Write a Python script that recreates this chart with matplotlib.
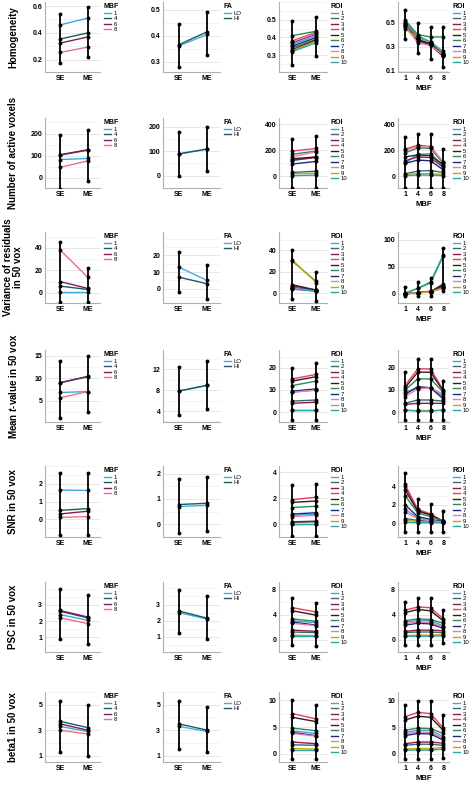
import matplotlib
matplotlib.use('Agg')
import matplotlib.pyplot as plt
from matplotlib.lines import Line2D
from matplotlib.ticker import MultipleLocator

plt.rcParams['font.family'] = ['Liberation Sans', 'DejaVu Sans']
plt.rcParams['mathtext.fontset'] = 'custom'
plt.rcParams['mathtext.it'] = 'Liberation Sans:italic:bold'
plt.rcParams['mathtext.rm'] = 'Liberation Sans:bold'

# ---------------- data ----------------
COND = ['SE', 'ME']
MBF_LEVELS = ['1', '4', '6', '8']
FA_LEVELS = ['LO', 'HI']
ROI_LEVELS = ['1', '2', '3', '4', '5', '6', '7', '8', '9', '10']

ROW_LABELS = ['Homogeneity', 'Number of active voxels', 'Variance of residuals\nin 50 vox',
              'Mean $\\it{t}$-value in 50 vox', 'SNR in 50 vox', 'PSC in 50 vox', 'beta1 in 50 vox']

# Homogeneity
hom_mbf = [[0.46, 0.51], [0.355, 0.40], [0.325, 0.37], [0.255, 0.295]]
hom_mbf_rng = [[0.18, 0.54], [0.22, 0.59]]
hom_fa = [[0.36, 0.405], [0.365, 0.415]]
hom_fa_rng = [[0.28, 0.445], [0.325, 0.49]]
hom_roi = [[0.36, 0.41], [0.34, 0.39], [0.37, 0.42], [0.38, 0.43], [0.33, 0.385],
           [0.41, 0.435], [0.35, 0.40], [0.375, 0.425], [0.325, 0.38], [0.32, 0.37]]
hom_roi_rng = [[0.245, 0.49], [0.295, 0.515]]
hom_roi_mbf = [[0.50, 0.38, 0.33, 0.24], [0.48, 0.36, 0.32, 0.23], [0.49, 0.35, 0.31, 0.22],
               [0.51, 0.37, 0.32, 0.24], [0.47, 0.36, 0.32, 0.22], [0.52, 0.40, 0.38, 0.38],
               [0.46, 0.35, 0.33, 0.23], [0.48, 0.33, 0.31, 0.23], [0.45, 0.37, 0.34, 0.25],
               [0.50, 0.39, 0.34, 0.26]]
hom_roi_mbf_rng = [[0.36, 0.60], [0.25, 0.50], [0.20, 0.46], [0.13, 0.46]]

# Number of active voxels
nav_mbf = [[83, 88], [103, 125], [105, 127], [48, 77]]
nav_mbf_rng = [[-50, 195], [-15, 215]]
nav_fa = [[88, 108], [89, 109]]
nav_fa_rng = [[0, 180], [18, 198]]
nav_roi = [[120, 150], [30, 40], [125, 145], [195, 215], [135, 150],
           [170, 195], [95, 115], [150, 190], [20, 25], [5, 10]]
nav_roi_rng = [[-90, 290], [-90, 310]]
nav_roi_mbf = [[100, 170, 175, 80], [20, 40, 45, 30], [120, 150, 145, 70], [210, 240, 230, 110],
               [150, 165, 160, 90], [180, 220, 215, 100], [100, 125, 120, 50], [200, 230, 225, 110],
               [15, 20, 20, 15], [5, 10, 10, 5]]
nav_roi_mbf_rng = [[-90, 300], [-90, 330], [-90, 325], [-90, 210]]

# Variance of residuals
var_mbf = [[1, 1], [6, 3], [10, 4], [38, 14]]
var_mbf_rng = [[-8, 45], [-8, 22]]
var_fa = [[13, 5], [7, 3]]
var_fa_rng = [[-2, 22], [-6, 14]]
var_roi = [[4, 2], [5, 3], [7, 3], [6, 2.5], [8, 3],
           [30, 11], [5, 3], [5, 2], [31, 10], [4, 2]]
var_roi_rng = [[-5, 40], [-7, 20]]
var_roi_mbf = [[0, 2, 4, 12], [0, 2, 4, 13], [0, 2, 5, 12], [0, 2, 4, 14], [0, 2, 4, 18],
               [1, 10, 20, 70], [0, 2, 4, 15], [0, 2, 3, 11], [0, 2, 4, 10], [1, 10, 22, 72]]
var_roi_mbf_rng = [[-5, 12], [-5, 22], [-5, 30], [5, 85]]

# Mean t-value
tv_mbf = [[6.8, 7.0], [9.0, 10.4], [9.0, 10.3], [5.6, 7.0]]
tv_mbf_rng = [[1.0, 13.8], [2.5, 15.0]]
tv_fa = [[7.8, 8.9], [7.85, 8.95]]
tv_fa_rng = [[3.3, 12.5], [4.3, 13.5]]
tv_roi = [[9.0, 10.0], [5.0, 5.5], [4.0, 4.5], [15.0, 17.0], [14.0, 16.0],
          [12.0, 14.0], [9.5, 10.5], [9.0, 10.0], [1.0, 1.0], [1.0, 1.0]]
tv_roi_rng = [[-3.5, 20], [-3.5, 22]]
tv_roi_mbf = [[9, 11, 11, 7], [4, 5.5, 5.5, 5], [3.5, 4, 4, 4], [12, 19.5, 19.5, 10],
              [11, 18, 18, 9.5], [10, 15, 15, 9], [8, 11.5, 11, 6], [7, 10.5, 11, 8],
              [1, 1, 1, 1], [1, 0.5, 0.5, 1]]
tv_roi_mbf_rng = [[-3.5, 18], [-3.5, 24], [-3.5, 24], [-3.5, 14]]

# SNR
snr_mbf = [[1.65, 1.62], [0.5, 0.6], [0.3, 0.45], [0.1, 0.15]]
snr_mbf_rng = [[-0.9, 2.6], [-0.9, 2.6]]
snr_fa = [[0.7, 0.75], [0.78, 0.83]]
snr_fa_rng = [[-0.35, 1.8], [-0.25, 1.85]]
snr_roi = [[0.7, 0.8], [0.15, 0.2], [0.2, 0.25], [1.9, 2.1], [1.7, 1.8],
           [1.3, 1.4], [0.8, 0.9], [0.6, 0.7], [0.05, 0.05], [0.0, 0.0]]
snr_roi_rng = [[-0.9, 3.0], [-0.9, 3.1]]
snr_roi_mbf = [[1.5, 0.6, 0.4, 0.1], [0.5, 0.3, 0.2, 0.1], [4.0, 1.4, 0.9, 0.2], [4.2, 1.5, 1.0, 0.2],
               [3.6, 1.3, 0.9, 0.2], [3.0, 1.1, 0.7, 0.2], [2.0, 0.7, 0.4, 0.15], [1.2, 0.5, 0.3, 0.1],
               [0.3, 0.2, 0.1, 0.1], [0.1, 0.05, 0.05, 0.05]]
snr_roi_mbf_rng = [[-1.0, 5.4], [-1.0, 2.6], [-1.0, 2.1], [-1.0, 1.3]]

# PSC
psc_mbf = [[2.4, 2.05], [2.6, 2.2], [2.65, 2.25], [2.2, 1.85]]
psc_mbf_rng = [[0.9, 4.0], [0.6, 3.6]]
psc_fa = [[2.5, 2.1], [2.6, 2.15]]
psc_fa_rng = [[1.2, 3.9], [0.85, 3.5]]
psc_roi = [[3.0, 2.7], [1.2, 1.1], [1.5, 1.3], [5.1, 4.4], [4.6, 3.9],
           [3.3, 2.9], [2.8, 2.3], [2.6, 2.2], [0.7, 0.6], [0.5, 0.5]]
psc_roi_rng = [[-0.8, 6.6], [-1.0, 5.8]]
psc_roi_mbf = [[2.8, 3.0, 3.0, 2.2], [1.1, 1.2, 1.2, 1.1], [1.3, 1.5, 1.5, 1.4], [4.7, 5.2, 5.1, 3.3],
               [4.3, 4.8, 4.6, 3.0], [3.0, 3.3, 3.2, 2.6], [2.3, 2.6, 2.5, 1.8], [2.5, 2.8, 2.7, 2.0],
               [0.6, 0.7, 0.7, 0.8], [0.5, 0.5, 0.5, 0.6]]
psc_roi_mbf_rng = [[-0.8, 6.0], [-0.8, 6.6], [-0.8, 6.6], [-0.5, 4.8]]

# beta1
b1_mbf = [[3.3, 2.9], [3.7, 3.2], [3.5, 3.0], [3.0, 2.7]]
b1_mbf_rng = [[1.3, 5.3], [1.0, 5.0]]
b1_fa = [[3.3, 2.9], [3.5, 3.0]]
b1_fa_rng = [[1.5, 5.3], [1.3, 4.8]]
b1_roi = [[4.3, 3.8], [1.7, 1.6], [2.2, 1.9], [7.5, 6.5], [6.8, 6.0],
          [4.8, 4.3], [4.0, 3.4], [3.8, 3.3], [1.0, 0.9], [0.7, 0.7]]
b1_roi_rng = [[-1.0, 10.0], [-1.0, 9.0]]
b1_roi_mbf = [[4.0, 4.4, 4.4, 3.2], [1.6, 1.8, 1.8, 1.6], [1.9, 2.2, 2.2, 2.0], [6.9, 7.7, 7.5, 4.8],
              [6.3, 7.0, 6.8, 4.4], [4.4, 4.8, 4.7, 3.8], [3.4, 3.8, 3.7, 2.6], [3.7, 4.1, 4.0, 2.9],
              [0.9, 1.0, 1.0, 1.2], [0.7, 0.7, 0.7, 0.9]]
b1_roi_mbf_rng = [[-1.0, 9.0], [-1.0, 9.9], [-1.0, 9.8], [-0.8, 7.2]]

# ---------------- styling ----------------
MBF_COLORS = ['#3ea6dc', '#1d5c5e', '#7e1f55', '#ee6f86']
FA_COLORS = ['#43aede', '#1b5b60']
ROI_COLORS = ['#3ea6dc', '#3c6a72', '#8a1c4c', '#ea3f5d', '#3b1a1f',
              '#2f8a55', '#1c2a7c', '#ee7bb0', '#c9a300', '#27a7a6']

ROWS = [
    (hom_mbf, hom_mbf_rng, hom_fa, hom_fa_rng, hom_roi, hom_roi_rng, hom_roi_mbf, hom_roi_mbf_rng),
    (nav_mbf, nav_mbf_rng, nav_fa, nav_fa_rng, nav_roi, nav_roi_rng, nav_roi_mbf, nav_roi_mbf_rng),
    (var_mbf, var_mbf_rng, var_fa, var_fa_rng, var_roi, var_roi_rng, var_roi_mbf, var_roi_mbf_rng),
    (tv_mbf, tv_mbf_rng, tv_fa, tv_fa_rng, tv_roi, tv_roi_rng, tv_roi_mbf, tv_roi_mbf_rng),
    (snr_mbf, snr_mbf_rng, snr_fa, snr_fa_rng, snr_roi, snr_roi_rng, snr_roi_mbf, snr_roi_mbf_rng),
    (psc_mbf, psc_mbf_rng, psc_fa, psc_fa_rng, psc_roi, psc_roi_rng, psc_roi_mbf, psc_roi_mbf_rng),
    (b1_mbf, b1_mbf_rng, b1_fa, b1_fa_rng, b1_roi, b1_roi_rng, b1_roi_mbf, b1_roi_mbf_rng),
]

YLIMS = [
    [(0.11, 0.63), (0.26, 0.53), (0.205, 0.60), (0.09, 0.67)],
    [(-45, 270), (-50, 235), (-90, 450), (-90, 450)],
    [(-9, 54), (-8.5, 34), (-9, 57), (-17, 114)],
    [(0.2, 16.3), (1.9, 15.7), (-4.4, 28), (-4.4, 28)],
    [(-1.0, 3.0), (-0.5, 2.3), (-0.97, 4.5), (-1.5, 6.2)],
    [(0.1, 4.4), (0.05, 4.4), (-2, 9.2), (-2, 9.2)],
    [(0.5, 6.0), (0.5, 6.0), (-1.5, 11.5), (-1.5, 11.5)],
]
YTICKS = [
    [[0.2, 0.4, 0.6], [0.3, 0.4, 0.5], [0.3, 0.4, 0.5], [0.1, 0.3, 0.5]],
    [[0, 100, 200], [0, 100, 200], [0, 200, 400], [0, 200, 400]],
    [[0, 20, 40], [0, 10, 20], [0, 20, 40], [0, 50, 100]],
    [[5, 10, 15], [4, 8, 12], [0, 10, 20], [0, 10, 20]],
    [[0, 1, 2], [0, 1, 2], [0, 2, 4], [0, 2, 4]],
    [[1, 2, 3], [1, 2, 3], [0, 4, 8], [0, 4, 8]],
    [[1, 3, 5], [1, 3, 5], [0, 5, 10], [0, 5, 10]],
]
TICKFMT = [['{:.1f}'] * 4] + [['{:g}'] * 4] * 6

W, H = 474, 788
COLS_PX = [(45, 100), (163, 220), (279, 327), (398, 449)]
ROWS_PX = [(2, 72), (118, 188), (232, 303), (350, 422), (466, 537), (582, 652), (692, 762)]

fig = plt.figure(figsize=(W / 100, H / 100), dpi=100)
fig.patch.set_facecolor('white')

SPINE = '#b0b0b0'
GRID = '#e6e6e6'


def make_ax(r, c):
    x0, x1 = COLS_PX[c]
    y0, y1 = ROWS_PX[r]
    ax = fig.add_axes([x0 / W, 1 - y1 / H, (x1 - x0) / W, (y1 - y0) / H])
    for s in ['top', 'right']:
        ax.spines[s].set_visible(False)
    for s in ['left', 'bottom']:
        ax.spines[s].set_color(SPINE)
        ax.spines[s].set_linewidth(0.8)
    ax.tick_params(length=0, labelsize=5, pad=2)
    for lab in ax.get_xticklabels() + ax.get_yticklabels():
        lab.set_fontweight('bold')
    ax.set_axisbelow(True)
    return ax


def draw_panel(ax, series, rng, colors, labels, title, xlabels, r, c):
    n = len(xlabels)
    xs = list(range(n))
    for vals, col in zip(series, colors):
        ax.plot(xs, vals, color=col, lw=1.0, zorder=2)
    for i in xs:
        lo, hi = rng[i]
        ax.vlines(i, lo, hi, color='black', lw=1.3, zorder=3)
        pts = [lo, hi] + [s[i] for s in series]
        ax.plot([i] * len(pts), pts, 'o', color='black', ms=1.8, zorder=4)
    ax.set_xticks(xs)
    ax.set_xticklabels(xlabels, fontsize=5, fontweight='bold')
    if n == 2:
        ax.set_xlim(-0.55, 1.45)
    else:
        ax.set_xlim(-0.55, 3.45)
    ax.set_ylim(*YLIMS[r][c])
    ticks = YTICKS[r][c]
    ax.set_yticks(ticks)
    ax.set_yticklabels([TICKFMT[r][c].format(t) for t in ticks], fontsize=5, fontweight='bold')
    step = ticks[1] - ticks[0]
    ax.yaxis.set_minor_locator(MultipleLocator(step / 2))
    ax.grid(axis='y', which='major', color=GRID, lw=0.7)
    ax.grid(axis='y', which='minor', color='#f0f0f0', lw=0.5)
    ax.tick_params(which='minor', length=0)
    handles = [Line2D([0], [0], color=col, lw=1.0) for col in colors]
    leg = ax.legend(handles, labels, title=title, loc='upper left', bbox_to_anchor=(1.0, 1.03),
                    frameon=False, fontsize=4.3, title_fontsize=5, handlelength=1.3,
                    handletextpad=0.4, labelspacing=0.05, borderaxespad=0.2, alignment='left')
    leg.get_title().set_fontweight('bold')
    if n == 4:
        ax.set_xlabel('MBF', fontsize=5.5, fontweight='bold', labelpad=2)


for r, row in enumerate(ROWS):
    mbf, mbf_rng, fa, fa_rng, roi, roi_rng, roim, roim_rng = row
    a1 = make_ax(r, 0)
    draw_panel(a1, mbf, mbf_rng, MBF_COLORS, MBF_LEVELS, 'MBF', COND, r, 0)
    a2 = make_ax(r, 1)
    draw_panel(a2, fa, fa_rng, FA_COLORS, FA_LEVELS, 'FA', COND, r, 1)
    a3 = make_ax(r, 2)
    draw_panel(a3, roi, roi_rng, ROI_COLORS, ROI_LEVELS, 'ROI', COND, r, 2)
    a4 = make_ax(r, 3)
    draw_panel(a4, roim, roim_rng, ROI_COLORS, ROI_LEVELS, 'ROI', MBF_LEVELS, r, 3)
    y0, y1 = ROWS_PX[r]
    fig.text(13 / W, 1 - ((y0 + y1) / 2) / H, ROW_LABELS[r], rotation=90, ha='center', va='center',
             fontsize=7, fontweight='bold', linespacing=1.1)

fig.savefig('out.png', dpi=100, facecolor='white')
